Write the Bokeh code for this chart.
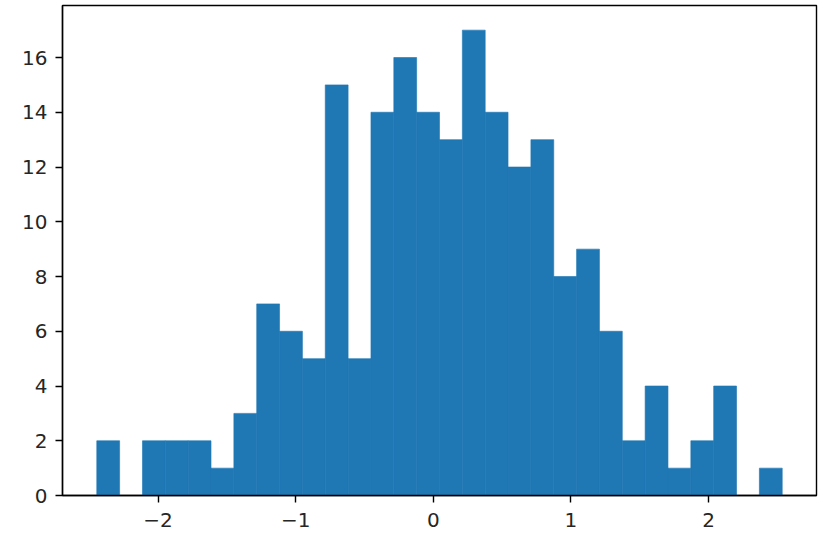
from bokeh.plotting import figure
from bokeh.models import Range1d, FixedTicker
from bokeh.embed import file_html
from bokeh.resources import INLINE
import numpy as np

# histogram data (30 bins)
bin_lo = -2.445
bin_hi = 2.535
counts = [2, 0, 2, 2, 2, 1, 3, 7, 6, 5, 15, 5, 14, 16, 14, 13, 17, 14, 12, 13,
          8, 9, 6, 2, 4, 1, 2, 4, 0, 1]
x_ticks = [-2, -1, 0, 1, 2]
x_tick_labels = {-2: "\u22122", -1: "\u22121", 0: "0", 1: "1", 2: "2"}
y_ticks = [0, 2, 4, 6, 8, 10, 12, 14, 16]

edges = np.linspace(bin_lo, bin_hi, len(counts) + 1)

p = figure(output_backend="svg", toolbar_location=None,
           frame_width=754, frame_height=490,
           min_border_left=62, min_border_right=10, min_border_top=5, min_border_bottom=44,
           x_range=Range1d(-2.694, 2.784), y_range=Range1d(0, 17.9))

p.quad(left=edges[:-1], right=edges[1:], bottom=0, top=counts,
       fill_color="#1f77b4", line_color="#1f77b4", line_width=0.6)

p.xgrid.visible = False
p.ygrid.visible = False
p.outline_line_color = "black"
p.outline_line_width = 1.4

for ax in (p.xaxis[0], p.yaxis[0]):
    ax.axis_line_color = "black"
    ax.axis_line_width = 1.4
    ax.major_tick_in = 0
    ax.major_tick_out = 7
    ax.major_tick_line_color = "black"
    ax.major_tick_line_width = 1.4
    ax.minor_tick_line_color = None
    ax.major_label_text_font = "DejaVu Sans"
    ax.major_label_text_font_size = "20px"
    ax.major_label_text_color = "#262626"

p.xaxis.major_label_standoff = 10
p.yaxis.major_label_standoff = 8
p.xaxis.ticker = FixedTicker(ticks=x_ticks)
p.xaxis.major_label_overrides = x_tick_labels
p.yaxis.ticker = FixedTicker(ticks=y_ticks)

open("out.html", "w").write(file_html(p, INLINE))
